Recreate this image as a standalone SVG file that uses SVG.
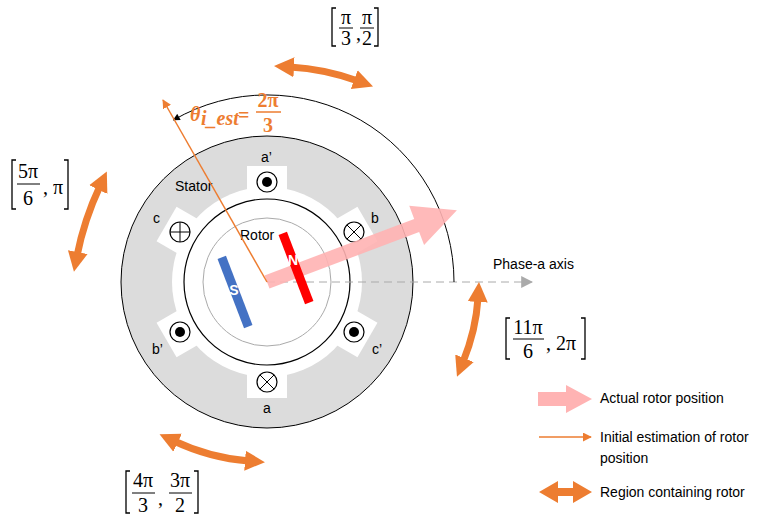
<svg xmlns="http://www.w3.org/2000/svg" width="772" height="522" viewBox="0 0 772 522">
<style>
text{font-family:"Liberation Sans","Open Sans",sans-serif;font-size:14px;fill:#000}
.m{font-family:"Liberation Serif","DejaVu Serif",serif;font-size:20px}
.br{fill:none;stroke:#000;stroke-width:1.3}
.fl{stroke:#000;stroke-width:1}
.dbl{fill:none;stroke:#ED7D31;stroke-width:7;marker-start:url(#oh);marker-end:url(#oh)}
.cd{fill:#fff;stroke:#000;stroke-width:1.2}
.o{fill:#ED7D31;font-weight:bold}
</style>
<defs>
<marker id="oh" viewBox="0 0 10 10" refX="2" refY="5" markerWidth="20" markerHeight="24" markerUnits="userSpaceOnUse" orient="auto-start-reverse"><path d="M0,0 L10,5 L0,10 Z" fill="#ED7D31"/></marker>
<marker id="oa" viewBox="0 0 10 10" refX="9" refY="5" markerWidth="9" markerHeight="9" markerUnits="userSpaceOnUse" orient="auto"><path d="M0,0 L10,5 L0,10 Z" fill="#ED7D31"/></marker>
<marker id="ba" viewBox="0 0 10 10" refX="9" refY="5" markerWidth="8" markerHeight="7" markerUnits="userSpaceOnUse" orient="auto"><path d="M0,0 L10,5 L0,10 Z" fill="#000"/></marker>
<marker id="ga" viewBox="0 0 10 10" refX="9" refY="5" markerWidth="12" markerHeight="12" markerUnits="userSpaceOnUse" orient="auto"><path d="M0,0 L10,5 L0,10 Z" fill="#aaa"/></marker>
</defs>
<g id="motor">
<circle cx="267" cy="282" r="146" fill="#DCDCDC" stroke="#000" stroke-width="1"/>
<g transform="translate(267,282)" fill="#fff">
<circle r="95"/>
<rect x="-20" y="-116" width="40" height="40"/>
<rect x="-20" y="-116" width="40" height="40" transform="rotate(60)"/>
<rect x="-20" y="-116" width="40" height="40" transform="rotate(120)"/>
<rect x="-20" y="-116" width="40" height="40" transform="rotate(180)"/>
<rect x="-20" y="-116" width="40" height="40" transform="rotate(240)"/>
<rect x="-20" y="-116" width="40" height="40" transform="rotate(300)"/>
</g>
<circle cx="267" cy="282" r="83" fill="none" stroke="#000" stroke-width="1.2"/>
<circle cx="267" cy="282" r="64" fill="none" stroke="#aaa" stroke-width="1"/>
</g>
<g id="conductors">
<g transform="translate(267,182)"><circle class="cd" r="10"/><circle r="5" fill="#000"/></g>
<g transform="translate(180,332)"><circle class="cd" r="10"/><circle r="5" fill="#000"/></g>
<g transform="translate(354,332)"><circle class="cd" r="10"/><circle r="5" fill="#000"/></g>
<g transform="translate(354,232)"><circle class="cd" r="10"/><path d="M-7,-7L7,7M7,-7L-7,7" class="fl"/></g>
<g transform="translate(267,382)"><circle class="cd" r="10"/><path d="M-7,-7L7,7M7,-7L-7,7" class="fl"/></g>
<g transform="translate(180,232)"><circle class="cd" r="10"/><path d="M-10,0L10,0M0,-10L0,10" class="fl"/></g>
</g>
<g id="labels">
<text x="261" y="162">a’</text>
<text x="371" y="223">b</text>
<text x="153" y="223">c</text>
<text x="152" y="354">b’</text>
<text x="372" y="354">c’</text>
<text x="263" y="413">a</text>
<text x="175" y="191">Stator</text>
<text x="240" y="240">Rotor</text>
<text x="493" y="269" font-size="13">Phase-a axis</text>
</g>
<g id="connectors">
<line x1="267" y1="282" x2="532" y2="282" stroke="#aaa" stroke-width="1" stroke-dasharray="8,5" marker-end="url(#ga)"/>
<path d="M454,282 A187,187 0 0 0 173.5,120" fill="none" stroke="#000" stroke-width="1" marker-end="url(#ba)"/>
<path d="M0,-7 L160,-7 L160,-21 L203,0 L160,21 L160,7 L0,7 Z" fill="#FFB3B3" opacity="0.9" transform="translate(267,282) rotate(-20.7)"/>
<line x1="267" y1="282" x2="163" y2="100" stroke="#ED7D31" stroke-width="1.5" marker-end="url(#oa)"/>
<path class="dbl" d="M290,67 Q325,69 358,81"/>
<path class="dbl" d="M100,186 Q84,220 77,256"/>
<path class="dbl" d="M478,298 Q476,330 463,362"/>
<path class="dbl" d="M174,441 Q210,458 249,461"/>
</g>
<g id="rotor">
<rect x="-4.5" y="-37" width="9" height="74" fill="#FF0000" transform="translate(296,268) rotate(-21)"/>
<rect x="-4.5" y="-37" width="9" height="74" fill="#4472C4" transform="translate(235,292) rotate(-21)"/>
<text x="0" y="3" font-size="9" font-weight="bold" text-anchor="middle" style="fill:#fff" transform="translate(293,262)">N</text>
<text x="0" y="3" font-size="9" font-weight="bold" text-anchor="middle" style="fill:#fff" transform="translate(234,292)">S</text>
</g>
<g id="theta">
<text x="190" y="121" class="m o" font-style="italic" font-size="19">θ</text>
<text x="201" y="125" class="m o" font-style="italic" font-size="11">i_est</text>
<text x="238" y="122" class="m o">=</text>
<text x="268" y="107" class="m o" text-anchor="middle">2π</text>
<line x1="256" y1="112" x2="281" y2="112" stroke="#ED7D31" stroke-width="1.5"/>
<text x="268" y="132" class="m o" text-anchor="middle">3</text>
</g>
<g id="range-top">
<path class="br" d="M336,8 H332 V46 H336 M374,8 H378 V46 H374"/>
<text x="346" y="24" class="m" text-anchor="middle">π</text><line x1="339" y1="28" x2="353" y2="28" class="fl"/><text x="346" y="45" class="m" text-anchor="middle">3</text>
<text x="356" y="40" class="m">,</text>
<text x="367" y="24" class="m" text-anchor="middle">π</text><line x1="360" y1="28" x2="374" y2="28" class="fl"/><text x="367" y="45" class="m" text-anchor="middle">2</text>
</g>
<g id="range-left">
<path class="br" d="M16,160 H12 V209 H16 M64,160 H68 V209 H64"/>
<text x="28" y="178" class="m" text-anchor="middle">5π</text><line x1="17" y1="184" x2="40" y2="184" class="fl"/><text x="28" y="205" class="m" text-anchor="middle">6</text>
<text x="43" y="194" class="m">, π</text>
</g>
<g id="range-right">
<path class="br" d="M510,318 H506 V359 H510 M581,318 H585 V359 H581"/>
<text x="528" y="334" class="m" text-anchor="middle">11π</text><line x1="513" y1="339" x2="544" y2="339" class="fl"/><text x="528" y="358" class="m" text-anchor="middle">6</text>
<text x="546" y="350" class="m">, 2π</text>
</g>
<g id="range-bottom">
<path class="br" d="M130,471 H126 V513 H130 M194,471 H198 V513 H194"/>
<text x="143" y="487" class="m" text-anchor="middle">4π</text><line x1="132" y1="493" x2="155" y2="493" class="fl"/><text x="143" y="512" class="m" text-anchor="middle">3</text>
<text x="158" y="505" class="m">,</text>
<text x="180" y="487" class="m" text-anchor="middle">3π</text><line x1="169" y1="493" x2="192" y2="493" class="fl"/><text x="180" y="512" class="m" text-anchor="middle">2</text>
</g>
<g id="legend">
<path d="M538,392 H566 V385 L592,399 L566,413 V406 H538 Z" fill="#FFB3B3"/>
<text x="600" y="403">Actual rotor position</text>
<line x1="539" y1="437" x2="591" y2="437" stroke="#ED7D31" stroke-width="1.5" marker-end="url(#oa)"/>
<text x="600" y="442">Initial estimation of rotor</text>
<text x="600" y="463">position</text>
<path d="M539,492 L558,481 V488 H573 V481 L592,492 L573,503 V496 H558 V503 Z" fill="#ED7D31"/>
<text x="600" y="497">Region containing rotor</text>
</g>
</svg>
